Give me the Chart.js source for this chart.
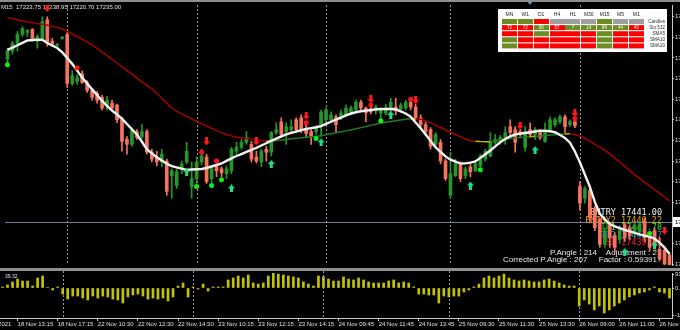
<!DOCTYPE html>
<html>
<head>
<meta charset="utf-8">
<script src="https://cdn.jsdelivr.net/npm/chart.js@4.4.0/dist/chart.umd.min.js"></script>
<style>
  html, body { margin: 0; padding: 0; background: #000; overflow: hidden; }
  #wrap { position: relative; width: 680px; height: 330px; overflow: hidden; background: #000; }
  canvas { position: absolute; left: 0; display: block; }
  #main { top: 0; }
  #sub { top: 270px; }
</style>
</head>
<body>
<div id="wrap">
  <canvas id="main" width="720" height="270"></canvas>
  <canvas id="sub" width="720" height="60"></canvas>
</div>
<script>
// M15 bars, index 0..133
const bars = Array.from({ length: 134 }, (_, i) => i);

const open = [
  17607, 17615, 17623, 17632, 17634, 17637, 17625, 17628, 17647, 17625,
  17621, 17628, 17632, 17582, 17584, 17592, 17583, 17575, 17572, 17568,
  17559, 17562, 17560, 17545, 17525, 17520, 17533, 17528, 17533, 17512,
  17507, 17502, 17503, 17488, 17478, 17495, 17502, 17477, 17485, 17502,
  17507, 17485, 17497, 17495, 17490, 17493, 17513, 17517, 17522, 17520,
  17507, 17502, 17515, 17512, 17532, 17543, 17533, 17535, 17545, 17547,
  17536, 17533, 17533, 17538, 17545, 17545, 17548, 17548, 17550, 17553,
  17555, 17563, 17557, 17556, 17554, 17552, 17552, 17555, 17558, 17556,
  17557, 17563, 17558, 17547, 17540, 17535, 17520, 17522, 17503, 17468,
  17488, 17499, 17488, 17497, 17493, 17498, 17505, 17508, 17522, 17523,
  17525, 17538, 17535, 17533, 17517, 17535, 17530, 17532, 17523, 17535,
  17540, 17543, 17548, 17540, 17543, 17477, 17465, 17473, 17455, 17443,
  17418, 17438, 17427, 17423, 17438, 17435, 17429, 17431, 17442, 17428,
  17432, 17413, 17412, 17407
];
const high = [
  17618, 17625, 17635, 17640, 17637, 17638, 17632, 17650, 17650, 17628,
  17623, 17630, 17634, 17595, 17591, 17595, 17585, 17577, 17574, 17570,
  17569, 17565, 17561, 17547, 17528, 17537, 17535, 17540, 17535, 17515,
  17513, 17515, 17505, 17495, 17495, 17503, 17522, 17502, 17507, 17515,
  17510, 17497, 17500, 17497, 17498, 17517, 17522, 17525, 17533, 17523,
  17513, 17515, 17518, 17533, 17542, 17547, 17542, 17545, 17547, 17550,
  17540, 17535, 17539, 17555, 17557, 17553, 17550, 17555, 17560, 17559,
  17565, 17565, 17558, 17558, 17560, 17557, 17561, 17567, 17567, 17562,
  17565, 17565, 17561, 17550, 17543, 17537, 17532, 17525, 17505, 17512,
  17505, 17502, 17497, 17500, 17503, 17510, 17515, 17532, 17530, 17529,
  17538, 17545, 17538, 17535, 17538, 17542, 17537, 17535, 17542, 17548,
  17547, 17550, 17550, 17545, 17545, 17482, 17477, 17475, 17457, 17445,
  17435, 17441, 17430, 17437, 17440, 17437, 17440, 17441, 17445, 17431,
  17435, 17425, 17415, 17410
];
const low = [
  17603, 17612, 17615, 17630, 17630, 17625, 17618, 17627, 17620, 17620,
  17620, 17627, 17578, 17580, 17581, 17582, 17573, 17565, 17562, 17555,
  17555, 17555, 17542, 17513, 17510, 17518, 17525, 17526, 17510, 17502,
  17498, 17497, 17468, 17465, 17475, 17490, 17500, 17465, 17480, 17499,
  17480, 17481, 17487, 17487, 17485, 17490, 17510, 17515, 17520, 17502,
  17501, 17497, 17503, 17508, 17530, 17527, 17520, 17533, 17533, 17532,
  17527, 17520, 17530, 17528, 17540, 17543, 17533, 17545, 17548, 17550,
  17553, 17555, 17543, 17551, 17551, 17545, 17550, 17553, 17550, 17553,
  17555, 17555, 17545, 17537, 17530, 17515, 17518, 17500, 17483, 17465,
  17487, 17482, 17485, 17487, 17492, 17497, 17503, 17507, 17520, 17520,
  17520, 17528, 17512, 17528, 17513, 17527, 17525, 17525, 17522, 17533,
  17538, 17541, 17532, 17538, 17537, 17453, 17460, 17440, 17432, 17415,
  17415, 17415, 17410, 17419, 17421, 17423, 17425, 17427, 17421, 17411,
  17413, 17401, 17396, 17393
];
const close = [
  17615, 17623, 17632, 17638, 17636, 17628, 17630, 17645, 17623, 17622,
  17622, 17629, 17582, 17590, 17588, 17583, 17575, 17568, 17565, 17557,
  17565, 17557, 17545, 17523, 17520, 17535, 17527, 17533, 17512, 17505,
  17502, 17510, 17472, 17493, 17492, 17500, 17513, 17485, 17502, 17508,
  17482, 17495, 17493, 17491, 17495, 17515, 17517, 17522, 17527, 17505,
  17503, 17513, 17512, 17532, 17535, 17530, 17538, 17538, 17535, 17535,
  17531, 17528, 17537, 17553, 17555, 17550, 17540, 17552, 17557, 17557,
  17563, 17557, 17552, 17553, 17558, 17555, 17557, 17563, 17554, 17560,
  17563, 17558, 17547, 17540, 17533, 17518, 17530, 17503, 17485, 17490,
  17500, 17485, 17495, 17492, 17500, 17508, 17513, 17523, 17525, 17527,
  17532, 17532, 17522, 17530, 17533, 17530, 17535, 17527, 17535, 17545,
  17545, 17548, 17538, 17543, 17539, 17460, 17475, 17445, 17435, 17418,
  17432, 17425, 17415, 17433, 17425, 17427, 17437, 17439, 17425, 17415,
  17417, 17403, 17398, 17395
];

// fast (white) and slow (red/green) moving averages
const fastMA = [
  17616.2, 17618.6, 17621.0, 17623.4, 17625.8, 17626.3, 17626.7, 17626.6, 17623.3, 17620.7,
  17618.2, 17613.8, 17608.0, 17602.0, 17595.1, 17588.2, 17581.9, 17576.0, 17570.2, 17564.2,
  17559.2, 17554.4, 17550.4, 17546.1, 17540.7, 17535.4, 17530.1, 17522.6, 17515.1, 17510.8,
  17506.9, 17503.4, 17500.3, 17497.7, 17496.5, 17495.2, 17494.0, 17494.3, 17494.6, 17494.9,
  17495.9, 17497.4, 17498.9, 17500.5, 17503.1, 17505.6, 17508.1, 17510.1, 17512.2, 17514.3,
  17516.4, 17518.8, 17521.1, 17523.6, 17525.8, 17528.0, 17530.1, 17531.6, 17533.0, 17534.5,
  17535.6, 17536.5, 17537.4, 17538.6, 17540.8, 17543.0, 17545.2, 17547.3, 17549.4, 17551.4,
  17552.7, 17553.7, 17554.4, 17555.0, 17555.6, 17556.0, 17556.0, 17556.0, 17555.7, 17553.6,
  17551.4, 17548.1, 17542.3, 17536.4, 17530.1, 17523.5, 17517.0, 17512.4, 17507.7, 17504.3,
  17502.4, 17500.4, 17500.6, 17501.4, 17502.6, 17506.2, 17509.9, 17513.7, 17517.9, 17522.2,
  17525.4, 17528.1, 17530.1, 17530.9, 17531.6, 17532.3, 17533.1, 17533.9, 17533.7, 17533.3,
  17532.3, 17529.5, 17526.6, 17521.7, 17512.7, 17501.6, 17489.1, 17476.6, 17461.3, 17449.2,
  17443.7, 17438.7, 17436.4, 17434.6, 17432.8, 17431.3, 17429.7, 17428.2, 17426.9, 17425.8,
  17423.8, 17419.8, 17414.8, 17408.3
];
const slowMA = [
  17649.4, 17648.1, 17646.9, 17645.6, 17644.6, 17643.9, 17643.1, 17642.4, 17641.4, 17640.2,
  17639.0, 17637.6, 17635.2, 17632.6, 17629.9, 17627.1, 17624.4, 17621.4, 17617.7, 17614.0,
  17610.3, 17606.6, 17602.9, 17599.0, 17595.1, 17591.3, 17587.4, 17583.6, 17580.0, 17576.5,
  17572.0, 17567.0, 17562.0, 17557.0, 17553.5, 17551.0, 17548.5, 17545.9, 17543.5, 17541.1,
  17538.7, 17536.3, 17533.9, 17531.7, 17530.1, 17528.6, 17527.5, 17526.8, 17526.0, 17525.3,
  17524.6, 17524.0, 17523.4, 17523.2, 17523.8, 17524.4, 17525.0, 17525.6, 17526.1, 17526.7,
  17527.2, 17527.8, 17528.3, 17528.8, 17529.7, 17530.7, 17531.7, 17532.7, 17533.7, 17534.7,
  17535.8, 17537.0, 17538.2, 17539.3, 17540.5, 17541.7, 17542.5, 17543.3, 17544.0, 17544.7,
  17545.5, 17546.0, 17546.0, 17545.5, 17544.0, 17542.1, 17539.6, 17537.1, 17534.6, 17532.2,
  17530.0, 17527.8, 17525.6, 17523.5, 17523.1, 17522.8, 17522.7, 17522.7, 17523.3, 17524.7,
  17525.4, 17525.9, 17526.4, 17526.9, 17527.4, 17527.9, 17528.2, 17528.6, 17529.0, 17529.4,
  17529.8, 17530.2, 17530.6, 17530.9, 17529.8, 17528.3, 17526.2, 17523.1, 17519.9, 17516.8,
  17513.7, 17510.2, 17506.0, 17501.7, 17497.5, 17493.3, 17488.9, 17485.2, 17481.4, 17477.7,
  17473.9, 17470.1, 17466.3, 17462.4
];

// sub window histogram
const histo = [
  7, 20, 40, 59, 46, 46, 13, 66, 79, 3,
  -13, 7, -40, -73, -53, -53, -66, -79, -53, -66,
  -53, -59, -73, -79, -99, -59, -46, -40, -53, -73,
  -66, -73, -66, -86, -59, 13, 33, -59, 7, -7,
  26, -20, 7, 7, 7, 53, 66, 79, 66, 86,
  33, 26, 33, 79, 97, 92, 86, 79, 73, 66,
  40, 26, 13, 79, 73, 59, 46, 46, 73, 59,
  53, 66, 53, 40, 33, 33, 33, 46, 53, 33,
  40, 33, 7, -40, -40, -46, -46, -99, -53, -59,
  -53, -53, -26, -13, 7, 26, 66, 79, 66, 79,
  92, 66, 53, 46, 53, 46, 40, 40, 53, 59,
  46, 33, 20, 13, 13, -119, -79, -106, -145, -119,
  -165, -145, -119, -99, -79, -59, -46, -33, -26, -13,
  7, -26, -33, -66
];

// signal markers
const sellArrowBar = [8, 40, 50, 60, 73, 82, 103, 114, 132];
const sellArrowPrice = [17659, 17523, 17523, 17549, 17566, 17565, 17539, 17552, 17432];
const sellDotBar = [14, 39, 42, 60, 73, 81, 114];
const sellDotPrice = [17598, 17512, 17503, 17542, 17560, 17566, 17546];
const buyArrowBar = [36, 45, 53, 63, 77, 93, 106, 124, 130];
const buyArrowPrice = [17492, 17475, 17500, 17522, 17550, 17478, 17514, 17410, 17417];
const buyDotBar = [0, 38, 41, 43, 62, 75, 95, 129];
const buyDotPrice = [17601, 17477, 17478, 17484, 17526, 17544, 17494, 17429];

// axes
const tickBars = [3, 11, 19, 27, 35, 43, 51, 59, 67, 75, 83, 91, 99, 107, 115, 123, 131];
const tickLabels = [
  '18 Nov 13:15', '18 Nov 17:15', '22 Nov 10:30', '22 Nov 12:30', '22 Nov 14:30',
  '23 Nov 10:15', '23 Nov 12:15', '23 Nov 14:15', '24 Nov 09:45', '24 Nov 11:45',
  '24 Nov 13:45', '25 Nov 09:30', '25 Nov 11:30', '25 Nov 13:30', '26 Nov 09:00',
  '26 Nov 11:00', '26 Nov 13:00'
];
const daySepBars = [12, 38, 64, 89, 115];
const priceTicks = [17650, 17629, 17608, 17587, 17566, 17545, 17524, 17503, 17482, 17461, 17440, 17419, 17398];
const histTicks = [91.64, 0, -182.36];
const bidPrice = 17441.00;

// on-chart texts
const headerText = 'M15  17223.75 17238.95 17220.70 17235.00';
const signalNames = ['ENTRY', 'ENTRY2', 'TP1', 'TP2', 'SL'];
const signalPrices = [17441.00, 17440.22, 17441.78, 17442.57, 17439.43];
const signalColors = ['#f2f2f2', '#e89a1c', '#22e022', '#1e8cff', '#ff2020'];

// dashboard table
const tfNames = ['MN', 'W1', 'D1', 'H4', 'H1', 'M30', 'M15', 'M5', 'M1'];
const rowNames = ['Candles', 'Sto 532', 'SMA5', 'SMA10', 'SMA20'];
const tableState = [
  ['g', 'g', 'r', 'n', 'n', 'n', 'g', 'n', 'n'],
  ['r', 'r', 'g', 'r', 'g', 'g', 'g', 'g', 'r'],
  ['r', 'r', 'g', 'r', 'r', 'r', 'g', 'r', 'r'],
  ['g', 'r', 'r', 'r', 'r', 'r', 'g', 'r', 'r'],
  ['g', 'r', 'r', 'r', 'r', 'r', 'g', 'r', 'r']
];
const stoValues = [72, 72, 56, 57, 7, 14, 84, 44, 43];
const cellColor = { g: '#6b8e23', r: '#ff0000', n: '#a0a0a0' };

const upColor = '#26962a';
const downColor = '#f7735e';
const candleColor = bars.map(i => close[i] >= open[i] ? upColor : downColor);

function makeArrow(color, down) {
  const c = document.createElement('canvas');
  c.width = 7;
  c.height = 8;
  const g = c.getContext('2d');
  g.fillStyle = color;
  g.beginPath();
  if (down) {
    g.rect(2, 0, 3, 4);
    g.moveTo(0, 4); g.lineTo(7, 4); g.lineTo(3.5, 8); g.closePath();
  } else {
    g.moveTo(0, 4); g.lineTo(7, 4); g.lineTo(3.5, 0); g.closePath();
    g.rect(2, 4, 3, 4);
  }
  g.fill();
  return c;
}
const sellArrowImg = makeArrow('#ff1a1a', true);
const buyArrowImg = makeArrow('#22dd88', false);

const pts = (b, p) => b.map((x, k) => ({ x: x, y: p[k] }));
const axisFont = { family: 'Liberation Sans', size: 6 };

const mainDecor = {
  id: 'mainDecor',
  beforeDatasetsDraw(chart) {
    const { ctx, chartArea: a, scales: { x, y } } = chart;
    ctx.save();
    ctx.strokeStyle = '#9a9a9a';
    ctx.lineWidth = 1;
    ctx.setLineDash([2, 2]);
    daySepBars.forEach(b => {
      const px = Math.round(x.getPixelForValue(b)) + 0.5;
      ctx.beginPath(); ctx.moveTo(px, a.top); ctx.lineTo(px, a.bottom); ctx.stroke();
    });
    ctx.setLineDash([]);
    const by = Math.round(y.getPixelForValue(bidPrice)) + 0.5;
    ctx.strokeStyle = '#6f7f8f';
    ctx.beginPath(); ctx.moveTo(a.left, by); ctx.lineTo(a.right, by); ctx.stroke();

    ctx.textBaseline = 'middle';
    ctx.textAlign = 'left';
    ctx.font = '6px "Liberation Sans"';
    ctx.fillStyle = '#e0e0e0';
    ctx.fillText(headerText, 1, 7);

    ctx.font = '8.5px "DejaVu Sans Mono"';
    ctx.textAlign = 'right';
    signalNames.forEach((n, k) => {
      ctx.fillStyle = signalColors[k];
      ctx.fillText(n + ' ' + signalPrices[k].toFixed(2), 662, 213 + k * 7.5);
    });
    ctx.font = '8px "Liberation Sans"';
    ctx.fillStyle = '#e8e8e8';
    ctx.textAlign = 'left';
    ctx.fillText('P.Angle : 214', 550, 252.5);
    ctx.fillText('Corrected P.Angle : 207', 503, 260);
    ctx.textAlign = 'right';
    ctx.fillText('Adjustment : 2', 657, 252.5);
    ctx.fillText('Factor : 0.59391', 657, 260);
    ctx.restore();
  },
  afterDraw(chart) {
    const { ctx, scales: { y } } = chart;
    ctx.save();
    ctx.fillStyle = '#8e8e8e';
    ctx.fillRect(0, 0, 720, 2);
    ctx.fillRect(0, 268, 720, 2);
    // chart shift marker
    ctx.fillStyle = '#7f8fa6';
    ctx.beginPath(); ctx.moveTo(527, 1); ctx.lineTo(533, 1); ctx.lineTo(530, 5); ctx.closePath(); ctx.fill();
    // bid label on the price axis
    const by = Math.round(y.getPixelForValue(bidPrice));
    ctx.fillStyle = '#ffffff';
    ctx.fillRect(673, by - 5, 44, 10);
    ctx.fillStyle = '#000000';
    ctx.font = '6px "Liberation Sans"';
    ctx.textAlign = 'left';
    ctx.textBaseline = 'middle';
    ctx.fillText(bidPrice.toFixed(2), 675, by);
    // dashboard
    ctx.fillStyle = '#ffffff';
    ctx.fillRect(498, 9, 169, 43);
    ctx.font = '5px "Liberation Sans"';
    ctx.fillStyle = '#202020';
    ctx.textAlign = 'center';
    tfNames.forEach((t, k) => ctx.fillText(t, 509.5 + k * 15.85, 14.5));
    tableState.forEach((row, r) => {
      const top = 19 + r * 6.1;
      row.forEach((s, k) => {
        ctx.fillStyle = cellColor[s];
        ctx.fillRect(Math.round(502 + k * 15.85), top, 15, 5);
      });
      ctx.fillStyle = '#303030';
      ctx.textAlign = 'right';
      ctx.font = '4.6px "Liberation Sans"';
      ctx.fillText(rowNames[r], 665, top + 2.6);
    });
    ctx.fillStyle = '#ffffff';
    ctx.textAlign = 'center';
    ctx.font = '4.5px "Liberation Sans"';
    stoValues.forEach((v, k) => ctx.fillText(String(v), 509.5 + k * 15.85, 19 + 6.1 + 2.6));
    ctx.restore();
  }
};

new Chart(document.getElementById('main'), {
  type: 'bar',
  data: {
    labels: bars,
    datasets: [
      { type: 'line', label: 'sell arrow', data: pts(sellArrowBar, sellArrowPrice), showLine: false,
        pointStyle: sellArrowImg, pointRadius: 4, order: 0 },
      { type: 'line', label: 'buy arrow', data: pts(buyArrowBar, buyArrowPrice), showLine: false,
        pointStyle: buyArrowImg, pointRadius: 4, order: 0 },
      { type: 'line', label: 'sell dot', data: pts(sellDotBar, sellDotPrice), showLine: false,
        pointStyle: 'circle', pointRadius: 2.5, pointBackgroundColor: '#ff1111', pointBorderWidth: 0, order: 0 },
      { type: 'line', label: 'buy dot', data: pts(buyDotBar, buyDotPrice), showLine: false,
        pointStyle: 'circle', pointRadius: 2.5, pointBackgroundColor: '#11ee11', pointBorderWidth: 0, order: 0 },
      { type: 'line', label: 'fast MA', data: fastMA, borderColor: '#f4f4f4', borderWidth: 2.4,
        pointRadius: 0, order: 1 },
      { type: 'line', label: 'slow MA', data: slowMA, borderColor: '#a40000', borderWidth: 1.5,
        pointRadius: 0, order: 2,
        segment: {
          borderColor: c => {
            const d = c.p1.parsed.y - c.p0.parsed.y;
            if (Math.abs(d) < 0.35) return '#b8b800';
            return d > 0 ? '#237a23' : '#a40000';
          }
        } },
      { label: 'body', data: bars.map(i => [open[i], close[i]]), backgroundColor: candleColor,
        barThickness: 3, minBarLength: 1, grouped: false, clip: 0, order: 3 },
      { label: 'wick', data: bars.map(i => [low[i], high[i]]), backgroundColor: candleColor,
        barThickness: 1, grouped: false, clip: 0, order: 4 }
    ]
  },
  options: {
    responsive: false,
    animation: false,
    devicePixelRatio: 1,
    events: [],
    layout: { padding: { top: 3, bottom: 2, left: 0, right: 0 } },
    plugins: { legend: { display: false }, tooltip: { enabled: false } },
    scales: {
      x: { display: false, offset: true },
      y: {
        position: 'right',
        min: 17397,
        max: 17662,
        afterBuildTicks: s => { s.ticks = priceTicks.map(v => ({ value: v })); },
        afterFit: s => { s.width = 48; s.paddingTop = 0; s.paddingBottom = 0; },
        grid: { drawOnChartArea: false, drawTicks: true, tickLength: 2, tickColor: '#c8c8c8' },
        border: { display: true, color: '#c8c8c8' },
        ticks: { color: '#e0e0e0', font: axisFont, padding: 1, callback: v => v.toFixed(2) }
      }
    }
  },
  plugins: [mainDecor]
});

const subDecor = {
  id: 'subDecor',
  beforeDatasetsDraw(chart) {
    const { ctx, chartArea: a, scales: { x } } = chart;
    ctx.save();
    ctx.fillStyle = '#8e8e8e';
    ctx.fillRect(0, 0, 720, 1);
    ctx.strokeStyle = '#9a9a9a';
    ctx.lineWidth = 1;
    ctx.setLineDash([2, 2]);
    daySepBars.forEach(b => {
      const px = Math.round(x.getPixelForValue(b)) + 0.5;
      ctx.beginPath(); ctx.moveTo(px, 1); ctx.lineTo(px, a.bottom); ctx.stroke();
    });
    ctx.restore();
  },
  afterDraw(chart) {
    const { ctx, chartArea: a, scales: { x } } = chart;
    ctx.save();
    ctx.fillStyle = '#e0e0e0';
    ctx.font = '5px "Liberation Sans"';
    ctx.textAlign = 'left';
    ctx.textBaseline = 'middle';
    ctx.fillText('39.32', 5, 7);
    // label of the bar before the first visible one, cut by the left edge
    const w = x.getPixelForValue(1) - x.getPixelForValue(0);
    ctx.font = '6px "Liberation Sans"';
    ctx.textBaseline = 'top';
    ctx.fillText('18 Nov 2021', x.getPixelForValue(0) - 5 * w, a.bottom + 3);
    ctx.restore();
  }
};

new Chart(document.getElementById('sub'), {
  type: 'bar',
  data: {
    labels: bars,
    datasets: [
      { label: 'histogram', data: histo, backgroundColor: '#c3c300', barThickness: 2, clip: 0 }
    ]
  },
  options: {
    responsive: false,
    animation: false,
    devicePixelRatio: 1,
    events: [],
    layout: { padding: { top: 3, bottom: 0, left: 0, right: 0 } },
    plugins: { legend: { display: false }, tooltip: { enabled: false } },
    scales: {
      x: {
        offset: true,
        afterBuildTicks: s => { s.ticks = tickBars.map(v => ({ value: v })); },
        afterFit: s => { s.height = 12; s.paddingLeft = 0; s.paddingRight = 0; },
        grid: { drawOnChartArea: false, offset: false, tickLength: 3, tickColor: '#c8c8c8' },
        border: { display: true, color: '#c8c8c8' },
        ticks: {
          autoSkip: false, maxRotation: 0, minRotation: 0, align: 'start', padding: 0,
          color: '#e0e0e0', font: axisFont, callback: (v, k) => tickLabels[k]
        }
      },
      y: {
        position: 'right',
        min: -198,
        max: 99,
        afterBuildTicks: s => { s.ticks = histTicks.map(v => ({ value: v })); },
        afterFit: s => { s.width = 48; s.paddingTop = 0; s.paddingBottom = 0; },
        grid: { drawOnChartArea: false, tickLength: 2, tickColor: '#c8c8c8' },
        border: { display: true, color: '#c8c8c8' },
        ticks: { color: '#e0e0e0', font: axisFont, padding: 1, callback: v => v.toFixed(2) }
      }
    }
  },
  plugins: [subDecor]
});
</script>
</body>
</html>
